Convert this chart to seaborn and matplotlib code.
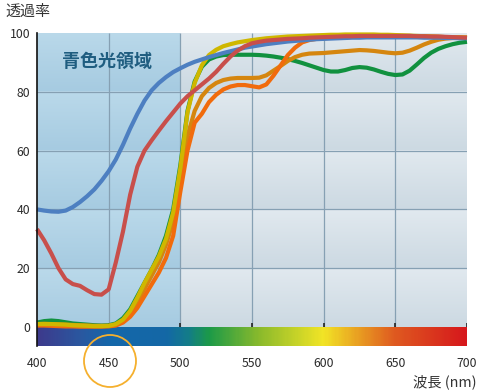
import numpy as np
import pandas as pd
import matplotlib
matplotlib.use("Agg")
import matplotlib.pyplot as plt
from matplotlib.colors import LinearSegmentedColormap, to_rgb
from matplotlib.patches import Circle
import seaborn as sns

sns.set_theme(style="white")
plt.rcParams["font.family"] = ["Noto Sans CJK JP", "DejaVu Sans"]

# wavelength grid (nm) and transmittance (%)
wavelength = list(range(400, 705, 5))

blue = [40.0, 39.6, 39.3, 39.2, 39.6, 40.8, 42.5, 44.5, 46.8, 49.7,
        53.0, 57.0, 62.0, 67.5, 72.5, 77.0, 80.5, 83.0, 85.0, 86.7,
        88.0, 89.2, 90.2, 91.0, 91.8, 92.5, 93.2, 93.8, 94.4, 95.0,
        95.4, 95.8, 96.2, 96.5, 96.8, 97.1, 97.3, 97.5, 97.7, 97.9,
        98.0, 98.1, 98.2, 98.3, 98.4, 98.4, 98.5, 98.5, 98.5, 98.5,
        98.5, 98.5, 98.5, 98.5, 98.4, 98.4, 98.4, 98.3, 98.3, 98.2, 98.2]

red = [33.3, 29.5, 25.0, 20.0, 16.2, 14.6, 14.0, 12.5, 11.2, 11.0,
       12.8, 22.0, 32.5, 45.0, 54.5, 60.0, 63.5, 66.8, 70.0, 73.0,
       76.0, 78.5, 80.5, 82.5, 84.5, 86.8, 89.5, 92.0, 94.0, 95.5,
       96.5, 97.0, 97.4, 97.6, 97.8, 98.0, 98.1, 98.2, 98.4, 98.5,
       98.6, 98.7, 98.8, 98.9, 98.9, 99.0, 99.0, 99.0, 99.0, 99.0,
       99.0, 99.0, 99.0, 98.9, 98.9, 98.8, 98.8, 98.7, 98.6, 98.5, 98.4]

yellow = [1.0, 1.0, 1.0, 0.9, 0.8, 0.6, 0.5, 0.4, 0.3, 0.3,
          0.4, 1.0, 2.5, 5.5, 10.0, 15.0, 19.5, 24.0, 30.0, 39.0,
          54.0, 73.0, 83.0, 89.0, 92.5, 94.3, 95.5, 96.2, 96.8, 97.2,
          97.6, 97.9, 98.2, 98.4, 98.6, 98.8, 98.9, 99.0, 99.1, 99.2,
          99.3, 99.4, 99.4, 99.5, 99.5, 99.5, 99.5, 99.5, 99.4, 99.4,
          99.3, 99.2, 99.1, 99.0, 98.9, 98.8, 98.7, 98.6, 98.5, 98.5, 98.4]

green = [1.5, 2.0, 2.2, 2.0, 1.6, 1.2, 1.0, 0.8, 0.6, 0.5,
         0.6, 1.2, 3.0, 6.0, 10.5, 15.0, 19.5, 24.5, 31.0, 40.0,
         55.0, 73.5, 83.5, 88.5, 91.0, 92.0, 92.5, 92.6, 92.6, 92.6,
         92.6, 92.5, 92.3, 92.0, 91.6, 91.1, 90.5, 89.8, 89.0, 88.2,
         87.4, 86.9, 86.9, 87.4, 88.1, 88.4, 88.2, 87.6, 86.8, 86.1,
         85.7, 85.9, 87.2, 89.3, 91.5, 93.3, 94.6, 95.5, 96.2, 96.7, 97.0]

amber = [1.0, 1.1, 1.0, 0.9, 0.8, 0.7, 0.6, 0.5, 0.4, 0.4,
         0.4, 0.8, 2.0, 4.5, 8.5, 13.0, 17.5, 22.0, 28.0, 36.0,
         50.0, 65.0, 73.5, 78.5, 81.3, 83.0, 84.0, 84.5, 84.7, 84.7,
         84.7, 84.8, 85.6, 87.2, 88.8, 90.5, 91.8, 92.6, 93.0, 93.1,
         93.2, 93.4, 93.6, 93.8, 94.0, 94.2, 94.1, 93.9, 93.6, 93.3,
         93.1, 93.3, 94.0, 95.0, 96.1, 97.0, 97.7, 98.1, 98.3, 98.4, 98.4]

orange = [0.5, 0.5, 0.4, 0.3, 0.2, 0.2, 0.1, 0.1, 0.1, 0.1,
          0.2, 0.5, 1.5, 3.5, 6.5, 10.5, 14.5, 18.5, 23.5, 31.0,
          46.0, 60.0, 69.5, 72.5, 76.5, 79.0, 80.8, 81.8, 82.3, 82.3,
          81.9, 81.5, 82.5, 85.5, 89.0, 92.5, 95.0, 96.8, 97.6, 98.0,
          98.2, 98.4, 98.5, 98.6, 98.7, 98.8, 98.9, 99.0, 99.0, 99.0,
          99.0, 99.0, 99.0, 98.9, 98.9, 98.8, 98.7, 98.6, 98.5, 98.5, 98.4]

series_order = ["green", "amber", "orange", "yellow", "blue", "red"]
series_colors = {"green": "#11913f", "amber": "#d5860f", "orange": "#f16b0c",
                 "yellow": "#cfb700", "blue": "#4d7fc1", "red": "#c84f4b"}

xticks = [400, 450, 500, 550, 600, 650, 700]
yticks = [0, 20, 40, 60, 80, 100]

# spectrum bar colour stops (nm, colour)
spec_nm = [400, 430, 450, 490, 505, 520, 555, 600, 625, 650, 700]
spec_col = ["#3d3a8c", "#2a58a0", "#1467aa", "#1468a6", "#137c8a", "#1c9a48",
            "#8aba2c", "#f2e526", "#e99e22", "#df5a20", "#d6181c"]

df = pd.DataFrame({
    "wavelength": wavelength * len(series_order),
    "value": sum([globals()[s] for s in series_order], []),
    "series": [s for s in series_order for _ in wavelength],
})

fig = plt.figure(figsize=(4.79, 3.92), dpi=100)
ax = fig.add_axes([37 / 479, 46 / 392, 430 / 479, 313 / 392])
ymin = -6.46

# banded gradient backgrounds
band = np.linspace(0, 1, 60)
prof = np.tile(band, 5)[:, None]  # top->bottom inside each 20% band


def grad(top, bottom):
    t, b = np.array(to_rgb(top)), np.array(to_rgb(bottom))
    img = t + (b - t) * prof[:, :, None]
    return img


ax.imshow(grad("#bad9ea", "#a6cbe1"), extent=(400, 500, 0, 100),
          aspect="auto", zorder=0, interpolation="bilinear")
ax.imshow(grad("#e1e9ef", "#ccd9e2"), extent=(500, 700, 0, 100),
          aspect="auto", zorder=0, interpolation="bilinear")

# grid
ax.hlines(yticks[1:-1], 400, 700, color="#86a0b3", lw=0.9, zorder=0.5)
ax.vlines(xticks[1:-1], 0, 100, color="#86a0b3", lw=0.9, zorder=0.5)

# spectrum bar
cmap = LinearSegmentedColormap.from_list(
    "spec", [((n - 400) / 300, c) for n, c in zip(spec_nm, spec_col)])
ax.imshow(np.linspace(0, 1, 300)[None, :], cmap=cmap, extent=(400, 700, ymin, 0),
          aspect="auto", zorder=1)
ax.vlines(xticks[1:], 0, 1.3, color="#222222", lw=1.2, zorder=1.5)

sns.lineplot(data=df, x="wavelength", y="value", hue="series", hue_order=series_order,
             palette=series_colors, lw=3, legend=False, ax=ax, zorder=2)
for ln in ax.get_lines():
    ln.set_solid_capstyle("butt")
    ln.set_solid_joinstyle("round")
    ln.set_clip_on(False)

ax.set_xlim(400, 700)
ax.set_ylim(ymin, 100)
ax.set_xticks(xticks)
ax.set_yticks(yticks)
ax.set_xlabel("")
ax.set_ylabel("")
ax.tick_params(axis="both", length=0, labelsize=8.8, labelcolor="#2b2b2b")
ax.tick_params(axis="x", pad=8)
ax.tick_params(axis="y", pad=5)
for s in ["top", "right", "bottom"]:
    ax.spines[s].set_visible(False)
ax.spines["left"].set_color("#111111")
ax.spines["left"].set_linewidth(1.2)

ax.text(449, 90.5, "青色光領域", ha="center", va="center", fontsize=13,
        fontweight="bold", color="#1f5d80", zorder=3)

fig.text(5 / 479, 1 - 12 / 392, "透過率", ha="left", va="center",
         fontsize=10.8, color="#333333")
fig.text(477 / 479, 1 - 382 / 392, "波長 (nm)", ha="right", va="center",
         fontsize=10.3, color="#333333")

fig.add_artist(Circle((1.10, 3.92 - 3.61), 0.26, transform=fig.dpi_scale_trans,
                      fill=False, ec="#f5b02e", lw=1.3))

fig.savefig("out.png", dpi=100)
